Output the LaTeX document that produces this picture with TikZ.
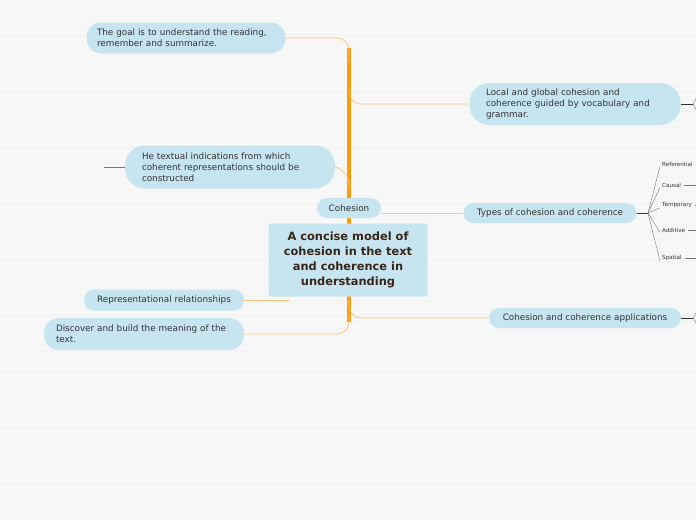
\documentclass[tikz,border=0pt]{standalone}
\usepackage{fontspec}
\setmainfont{DejaVu Sans}
\pgfdeclarelayer{bgl}
\pgfsetlayers{bgl,main}
\definecolor{bg}{HTML}{F6F6F6}
\definecolor{nodefill}{HTML}{C6E5F0}
\definecolor{txt}{HTML}{333333}
\definecolor{ttl}{HTML}{3A2618}
\definecolor{trunk}{HTML}{FF9A0A}
\definecolor{br}{HTML}{FFC77A}
\definecolor{gl}{HTML}{777777}
\begin{document}
\begin{tikzpicture}[x=1pt,y=-1pt,
  pill/.style={fill=nodefill,text=txt,font=\fontsize{8.8}{11}\selectfont,align=left,inner sep=0pt},
  small/.style={text=txt,font=\fontsize{5.6}{6.5}\selectfont,anchor=west,inner sep=0pt},
  branch/.style={draw=br,line width=0.8pt,rounded corners=12pt},
  fan/.style={draw=gl,line width=0.4pt}]
\useasboundingbox (0,0) rectangle (696,520);
\clip (0,0) rectangle (696,520);
% nodes
\node[pill,rounded corners=15pt,minimum width=199pt,minimum height=31pt,text width=178pt] (goal) at (186,38) {The goal is to understand the reading,\\remember and summarize.};
\node[pill,rounded corners=20pt,minimum width=211pt,minimum height=42pt,text width=178pt] (local) at (575,104) {Local and global cohesion and\\coherence guided by vocabulary and\\grammar.};
\node[pill,rounded corners=20pt,minimum width=210pt,minimum height=43pt,text width=176pt] (he) at (230,167) {He textual indications from which\\coherent representations should be\\constructed};
\node[pill,rounded corners=10pt,minimum width=64pt,minimum height=20pt,align=center] (coh) at (349,208) {Cohesion};
\node[pill,rounded corners=10pt,minimum width=173pt,minimum height=20pt,align=center] (types) at (550,213) {Types of cohesion and coherence};
\node[pill,rounded corners=10pt,minimum width=160pt,minimum height=21pt,align=center] (repr) at (164,300) {Representational relationships};
\node[pill,rounded corners=15pt,minimum width=200pt,minimum height=32pt,text width=176pt] (disc) at (144,334) {Discover and build the meaning of the\\text.};
\node[pill,rounded corners=10pt,minimum width=192pt,minimum height=20pt,align=center] (apps) at (585,318) {Cohesion and coherence applications};
\node[fill=nodefill,text=ttl,rounded corners=3pt,minimum width=159pt,minimum height=73pt,align=center,inner sep=0pt,font=\bfseries\fontsize{11.4}{14.8}\selectfont] (central) at (348,260) {A concise model of\\cohesion in the text\\and coherence in\\understanding};
\begin{pgfonlayer}{bgl}
\fill[bg] (0,0) rectangle (696,520);
\foreach \y in {4,11,...,520} \draw[white!60!bg,line width=1pt] (0,\y) -- (696,\y);
\draw[trunk,line width=4pt] (349,48) -- (349,322);
\draw[branch] (goal.east) -- (349,38) -- (349,62);
\draw[branch] (349,88) -- (349,104) -- (local.west);
\draw[branch] (he.east) -- (349,172) -- (349,190);
\draw[branch] (349,300) -- (349,318) -- (apps.west);
\draw[branch] (disc.east) -- (349,334) -- (349,314);
\draw[branch] (repr.east) -- (290,300);
\draw[draw=br,line width=0.8pt] (coh.east |- types.west) -- (types.west);
\draw[gl,line width=0.6pt] (104,167) -- (he.west);
\end{pgfonlayer}
% right fans
\draw[black!80,line width=0.8pt] (types.east) -- (648,213) coordinate (tf);
\node[small] (r1) at (662,164) {Referential};
\node[small] (r2) at (662,185) {Causal};
\node[small] (r3) at (662,205) {Temporary};
\node[small] (r4) at (662,230) {Additive};
\node[small] (r5) at (662,258) {Spatial};
\foreach \n in {r1,r2,r3,r4,r5} \draw[fan] (tf) -- ([xshift=-2pt]\n.south west);
\draw[fan] (r2.east) ++(3,0) -- (696,185);
\draw[fan] (r3.east) ++(3,0) -- (700,205);
\draw[fan] (r4.east) ++(3,0) -- (700,230);
\draw[fan] (r5.east) ++(3,0) -- (700,258);
\draw[black!80,line width=0.8pt] (local.east) -- (693,104) coordinate (lf);
\draw[fan] (lf) -- (705,82); \draw[fan] (lf) -- (705,126);
\draw[black!80,line width=0.8pt] (apps.east) -- (693,318) coordinate (af);
\draw[fan] (af) -- (705,298); \draw[fan] (af) -- (705,338);
\end{tikzpicture}
\end{document}
